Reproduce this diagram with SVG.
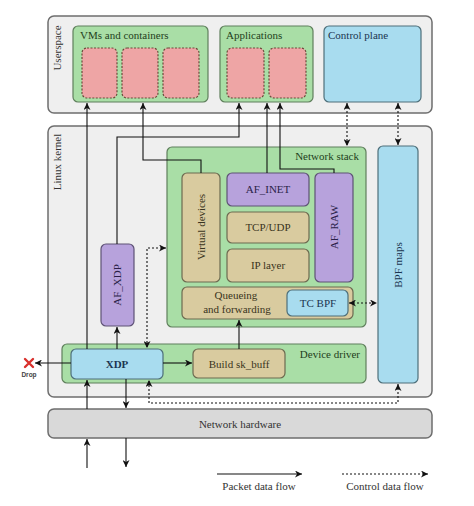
<svg xmlns="http://www.w3.org/2000/svg" width="474" height="506" viewBox="0 0 474 506">
<defs>
<marker id="ah" viewBox="0 0 10 10" refX="10" refY="5" markerWidth="7" markerHeight="7" orient="auto-start-reverse" markerUnits="userSpaceOnUse">
<path d="M0,0 L10,5 L0,10 L3,5 Z" fill="#111"/>
</marker>
<style>
.outer{fill:#efefef;stroke:#6e6e6e;stroke-width:1.5}
.green{fill:#a9dea6;stroke:#5f7f5c;stroke-width:1.2}
.pink{fill:#eea5a5;stroke:#6b4a3a;stroke-width:1.2;stroke-dasharray:2,1.5}
.blue{fill:#a8dcef;stroke:#4e6f7a;stroke-width:1.2}
.tan{fill:#d9cb9f;stroke:#6d6a50;stroke-width:1.2}
.purple{fill:#b7a2dc;stroke:#5e5275;stroke-width:1.2}
.hw{fill:#d9d9d9;stroke:#6e6e6e;stroke-width:1.5}
text{font-family:"Liberation Serif","DejaVu Serif",serif;font-size:11px}
.tg{fill:#1f3f1c}
.tb{fill:#1b3550}
.tt{fill:#3a3420}
.tp{fill:#2a1f48}
.tk{fill:#333}
.mid{text-anchor:middle}
.flow{fill:none;stroke:#111;stroke-width:1.1}
.ctl{fill:none;stroke:#111;stroke-width:1.1;stroke-dasharray:2,2}
</style>
</defs>

<g id="userspace">
<rect class="outer" x="48" y="16" width="384" height="97" rx="6"/>
<text class="tk mid" transform="translate(61,48) rotate(-90)">Userspace</text>
</g>
<g id="vms">
<rect class="green" x="73" y="26" width="135" height="76" rx="5"/>
<text class="tg" x="80" y="39">VMs and containers</text>
<rect class="pink" x="82" y="48" width="35" height="50" rx="5"/>
<rect class="pink" x="122" y="48" width="36" height="50" rx="5"/>
<rect class="pink" x="163" y="48" width="36" height="50" rx="5"/>
</g>
<g id="applications">
<rect class="green" x="220" y="26" width="93" height="76" rx="5"/>
<text class="tg" x="226" y="39">Applications</text>
<rect class="pink" x="227" y="48" width="37" height="50" rx="5"/>
<rect class="pink" x="269" y="48" width="37" height="50" rx="5"/>
</g>
<g id="control-plane">
<rect class="blue" x="324" y="26" width="97" height="76" rx="5"/>
<text class="tb" x="328" y="39">Control plane</text>
</g>

<g id="linux-kernel">
<rect class="outer" x="48" y="126" width="384" height="271" rx="6"/>
<text class="tk mid" transform="translate(61,162) rotate(-90)">Linux kernel</text>
</g>
<g id="network-stack">
<rect class="green" x="167" y="147" width="199" height="180" rx="5"/>
<text class="tg" x="359" y="160" text-anchor="end">Network stack</text>
</g>
<g id="virtual-devices">
<rect class="tan" x="182" y="173" width="38" height="109" rx="5"/>
<text class="tt mid" transform="translate(205,227) rotate(-90)">Virtual devices</text>
</g>
<g id="af-inet">
<rect class="purple" x="227" y="173" width="82" height="33" rx="5"/>
<text class="tp mid" x="268" y="193">AF_INET</text>
</g>
<g id="tcp-udp">
<rect class="tan" x="227" y="212" width="82" height="31" rx="5"/>
<text class="tt mid" x="268" y="231">TCP/UDP</text>
</g>
<g id="ip-layer">
<rect class="tan" x="227" y="249" width="82" height="33" rx="5"/>
<text class="tt mid" x="268" y="269">IP layer</text>
</g>
<g id="af-raw">
<rect class="purple" x="315" y="173" width="38" height="109" rx="5"/>
<text class="tp mid" transform="translate(338,227) rotate(-90)">AF_RAW</text>
</g>
<g id="queueing">
<rect class="tan" x="182" y="287" width="171" height="32" rx="5"/>
<text class="tt mid" x="236" y="299">Queueing</text>
<text class="tt mid" x="237" y="313">and forwarding</text>
</g>
<g id="tc-bpf">
<rect class="blue" x="287" y="290" width="61" height="26" rx="5"/>
<text class="tb mid" x="318" y="307">TC BPF</text>
</g>
<g id="bpf-maps">
<rect class="blue" x="378" y="146" width="40" height="237" rx="5"/>
<text class="tb mid" transform="translate(402,265) rotate(-90)">BPF maps</text>
</g>
<g id="af-xdp">
<rect class="purple" x="101" y="244" width="33" height="82" rx="5"/>
<text class="tp mid" transform="translate(121,285) rotate(-90)">AF_XDP</text>
</g>
<g id="device-driver">
<rect class="green" x="62" y="344" width="304" height="39" rx="5"/>
<text class="tg" x="360" y="358" text-anchor="end">Device driver</text>
</g>
<g id="xdp">
<rect class="blue" x="71" y="349" width="92" height="30" rx="5"/>
<text class="tb mid" x="117" y="368" font-weight="bold">XDP</text>
</g>
<g id="build-skbuff">
<rect class="tan" x="193" y="349" width="92" height="29" rx="5"/>
<text class="tt mid" x="239" y="368">Build sk_buff</text>
</g>
<g id="network-hardware">
<rect class="hw" x="48" y="409" width="384" height="29" rx="6"/>
<text class="tk mid" x="240" y="428">Network hardware</text>
</g>
<g id="drop">
<path d="M25,359 L33,367 M33,359 L25,367" stroke="#d9302c" stroke-width="2.4" stroke-linecap="round"/>
<text x="29" y="377" text-anchor="middle" style="font-family:'Liberation Sans',sans-serif;font-size:6.5px;font-weight:bold;fill:#444">Drop</text>
</g>

<g id="connectors">
<!-- packet flow -->
<line class="flow" x1="87" y1="468" x2="87" y2="439" marker-end="url(#ah)"/>
<line class="flow" x1="87" y1="409" x2="87" y2="380" marker-end="url(#ah)"/>
<line class="flow" x1="126" y1="379" x2="126" y2="408" marker-end="url(#ah)"/>
<line class="flow" x1="126" y1="438" x2="126" y2="467" marker-end="url(#ah)"/>
<line class="flow" x1="71" y1="363" x2="35" y2="363" marker-end="url(#ah)"/>
<line class="flow" x1="163" y1="363" x2="192" y2="363" marker-end="url(#ah)"/>
<line class="flow" x1="239" y1="349" x2="239" y2="320" marker-end="url(#ah)"/>
<line class="flow" x1="117" y1="349" x2="117" y2="327" marker-end="url(#ah)"/>
<line class="flow" x1="87" y1="349" x2="87" y2="103" marker-end="url(#ah)"/>
<polyline class="flow" points="117,244 117,137 239,137 239,103" marker-end="url(#ah)"/>
<polyline class="flow" points="201,173 201,160 143,160 143,103" marker-end="url(#ah)"/>
<line class="flow" x1="267" y1="173" x2="267" y2="103" marker-end="url(#ah)"/>
<polyline class="flow" points="334,173 334,169 280,169 280,103" marker-end="url(#ah)"/>
<!-- control flow -->
<line class="ctl" x1="347" y1="103" x2="347" y2="146" marker-start="url(#ah)" marker-end="url(#ah)"/>
<line class="ctl" x1="398" y1="103" x2="398" y2="145" marker-start="url(#ah)" marker-end="url(#ah)"/>
<line class="ctl" x1="349" y1="303" x2="377" y2="303" marker-start="url(#ah)" marker-end="url(#ah)"/>
<polyline class="ctl" points="398,384 398,403 149,403 149,380" marker-start="url(#ah)" marker-end="url(#ah)"/>
<polyline class="ctl" points="166,248 147,248 147,348" marker-start="url(#ah)" marker-end="url(#ah)"/>
<!-- legend -->
<line class="flow" x1="217" y1="474" x2="302" y2="474" marker-end="url(#ah)"/>
<line class="ctl" x1="342" y1="474" x2="428" y2="474" marker-end="url(#ah)"/>
</g>
<g id="legend">
<text class="tk mid" x="259" y="490">Packet data flow</text>
<text class="tk mid" x="385" y="490">Control data flow</text>
</g>
</svg>
